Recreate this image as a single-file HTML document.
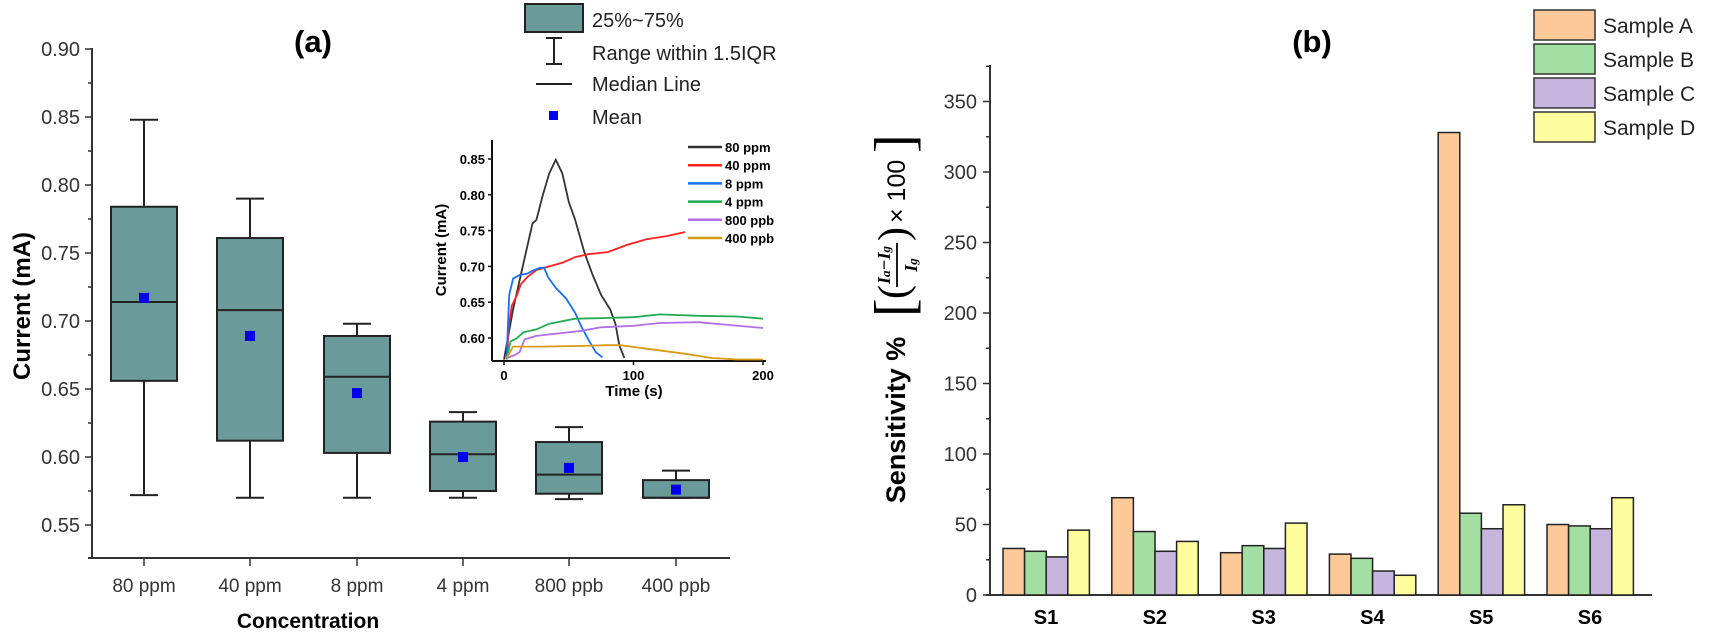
<!DOCTYPE html>
<html><head><meta charset="utf-8"><style>
html,body{margin:0;padding:0;background:#fff;}
svg{display:block;font-family:"Liberation Sans",Arial,sans-serif;}
</style></head><body>
<svg id="s" width="1720" height="633" viewBox="0 0 1720 633" xmlns="http://www.w3.org/2000/svg">
<rect width="1720" height="633" fill="#fff"/>
<g id="L"></g>
<g id="R"></g>
<text x="313" y="52" font-size="31" font-weight="bold" text-anchor="middle">(a)</text>
<text x="308" y="628" font-size="21" font-weight="bold" text-anchor="middle">Concentration</text>
<text transform="translate(30,306) rotate(-90)" font-size="24" font-weight="bold" text-anchor="middle">Current (mA)</text>
<rect x="525" y="4" width="58" height="28" fill="#6b9a9a" stroke="#222" stroke-width="2"/>
<text x="592" y="27" font-size="20" fill="#222">25%~75%</text>
<line x1="554" y1="38" x2="554" y2="64" stroke="#222" stroke-width="2"/>
<line x1="546" y1="38" x2="562" y2="38" stroke="#222" stroke-width="2"/>
<line x1="546" y1="64" x2="562" y2="64" stroke="#222" stroke-width="2"/>
<text x="592" y="60" font-size="20" fill="#222">Range within 1.5IQR</text>
<line x1="536" y1="84" x2="572" y2="84" stroke="#222" stroke-width="2"/>
<text x="592" y="91" font-size="20" fill="#222">Median Line</text>
<rect x="549" y="111" width="9" height="9" fill="#0000ee"/>
<text x="592" y="124" font-size="20" fill="#222">Mean</text>
<text x="1312" y="52" font-size="31" font-weight="bold" text-anchor="middle">(b)</text>
<g transform="translate(905,420) rotate(-90)">
<text x="0" y="0" font-size="27" font-weight="bold" text-anchor="middle">Sensitivity %</text>
</g>
<g transform="translate(895,225) rotate(-90)" font-family="Liberation Serif,serif">
<text x="-92" y="18" font-size="56">[</text>
<text x="-74" y="12" font-size="42">(</text>
<text x="-40" y="-5" font-size="18" font-style="italic" font-weight="bold" text-anchor="middle">I<tspan font-size="13">a</tspan>−I<tspan font-size="13">g</tspan></text>
<line x1="-62" y1="2" x2="-18" y2="2" stroke="#000" stroke-width="1.8"/>
<text x="-40" y="22" font-size="18" font-style="italic" font-weight="bold" text-anchor="middle">I<tspan font-size="13">g</tspan></text>
<text x="-16" y="12" font-size="42">)</text>
<text x="2" y="10" font-size="25" font-family="Liberation Sans,sans-serif">× 100</text>
<text x="72" y="18" font-size="56">]</text>
</g>
</svg>
<script>
var NS="http://www.w3.org/2000/svg";
function el(p,t,a,txt){var e=document.createElementNS(NS,t);for(var k in a)e.setAttribute(k,a[k]);if(txt!==undefined)e.textContent=txt;p.appendChild(e);return e;}
var L=document.getElementById('L');
function yL(v){return 49+(0.90-v)/0.05*68;}
el(L,'line',{x1:92,y1:48,x2:92,y2:558,stroke:'#333','stroke-width':2});
el(L,'line',{x1:88,y1:558,x2:730,y2:558,stroke:'#333','stroke-width':2});
for(var i=0;i<=14;i++){var v=0.90-i*0.025;var y=yL(v);if(y>557)break;var maj=i%2==0;
 el(L,'line',{x1:maj?85:88,y1:y,x2:92,y2:y,stroke:'#333','stroke-width':1.5});
 if(maj)el(L,'text',{x:80,y:y+7,'font-size':20,'text-anchor':'end',fill:'#333'},v.toFixed(2));}
var cx=[144,250,357,463,569,676],labs=['80 ppm','40 ppm','8 ppm','4 ppm','800 ppb','400 ppb'];
var D=[[0.848,0.572,0.656,0.784,0.714,0.717],[0.790,0.570,0.612,0.761,0.708,0.689],[0.698,0.570,0.603,0.689,0.659,0.647],[0.633,0.570,0.575,0.626,0.602,0.600],[0.622,0.569,0.573,0.611,0.587,0.592],[0.590,0.570,0.570,0.583,0.570,0.576]];
for(var i=0;i<6;i++){var c=cx[i],d=D[i];
 el(L,'line',{x1:c,y1:558,x2:c,y2:566,stroke:'#333','stroke-width':1.5});
 el(L,'text',{x:c,y:592,'font-size':19,'text-anchor':'middle',fill:'#333'},labs[i]);
 el(L,'line',{x1:c,y1:yL(d[0]),x2:c,y2:yL(d[1]),stroke:'#222','stroke-width':2});
 el(L,'line',{x1:c-14,y1:yL(d[0]),x2:c+14,y2:yL(d[0]),stroke:'#222','stroke-width':2});
 el(L,'line',{x1:c-14,y1:yL(d[1]),x2:c+14,y2:yL(d[1]),stroke:'#222','stroke-width':2});
 el(L,'rect',{x:c-33,y:yL(d[3]),width:66,height:yL(d[2])-yL(d[3]),fill:'#6b9a9a',stroke:'#222','stroke-width':2});
 el(L,'line',{x1:c-33,y1:yL(d[4]),x2:c+33,y2:yL(d[4]),stroke:'#222','stroke-width':2});
 el(L,'rect',{x:c-5,y:yL(d[5])-5,width:10,height:10,fill:'#0000ee'});}
function ix(t){return 504+t*1.295;} function iy(v){return 159+(0.85-v)/0.05*35.8;}
el(L,'line',{x1:492,y1:140,x2:492,y2:361,stroke:'#111','stroke-width':2});
el(L,'line',{x1:492,y1:361,x2:766,y2:361,stroke:'#111','stroke-width':2});
[0.85,0.80,0.75,0.70,0.65,0.60].forEach(function(v){var y=iy(v);el(L,'line',{x1:488,y1:y,x2:492,y2:y,stroke:'#111','stroke-width':1.5});
 el(L,'text',{x:485,y:y+5,'font-size':13,'font-weight':'bold','text-anchor':'end'},v.toFixed(2));});
[0,100,200].forEach(function(t){var x=ix(t);el(L,'line',{x1:x,y1:361,x2:x,y2:365,stroke:'#111','stroke-width':1.5});
 el(L,'text',{x:x,y:380,'font-size':13,'font-weight':'bold','text-anchor':'middle'},String(t));});
el(L,'text',{x:634,y:396,'font-size':15,'font-weight':'bold','text-anchor':'middle'},'Time (s)');
el(L,'text',{transform:'translate(446,250) rotate(-90)','font-size':15,'font-weight':'bold','text-anchor':'middle'},'Current (mA)');
var C=[['#333','80 ppm',[[0,0.57],[3,0.60],[7,0.64],[12,0.68],[17,0.72],[22,0.76],[25,0.765],[30,0.80],[35,0.83],[40,0.849],[45,0.83],[50,0.79],[55,0.765],[62,0.72],[68,0.69],[75,0.66],[82,0.64],[86,0.62],[89,0.59],[93,0.572]]],
['#ff2020','40 ppm',[[2,0.57],[4,0.62],[6,0.645],[10,0.66],[13,0.675],[18,0.685],[25,0.695],[35,0.70],[45,0.705],[55,0.713],[65,0.717],[80,0.72],[95,0.73],[110,0.738],[125,0.742],[140,0.748]]],
['#1a6ff0','8 ppm',[[2,0.57],[4,0.66],[7,0.683],[12,0.688],[18,0.69],[22,0.694],[28,0.698],[31,0.698],[34,0.685],[40,0.67],[48,0.655],[55,0.635],[60,0.615],[66,0.595],[71,0.58],[76,0.573]]],
['#22aa55','4 ppm',[[2,0.57],[5,0.595],[10,0.60],[15,0.608],[25,0.612],[35,0.62],[55,0.627],[80,0.628],[100,0.629],[120,0.633],[150,0.631],[180,0.63],[200,0.627]]],
['#b070e8','800 ppb',[[2,0.572],[8,0.576],[12,0.58],[16,0.598],[25,0.603],[45,0.607],[60,0.61],[75,0.615],[100,0.617],[120,0.621],[150,0.622],[175,0.618],[200,0.614]]],
['#d89a10','400 ppb',[[2,0.572],[7,0.588],[30,0.588],[60,0.589],[80,0.59],[90,0.59],[110,0.585],[140,0.578],[160,0.572],[180,0.57],[200,0.57]]]];
C.forEach(function(c,k){var p=c[2].map(function(q){return ix(q[0]).toFixed(1)+','+iy(q[1]).toFixed(1);}).join(' ');
 el(L,'polyline',{points:p,fill:'none',stroke:c[0],'stroke-width':1.8});
 var y=147+k*18.2; el(L,'line',{x1:688,y1:y,x2:722,y2:y,stroke:c[0],'stroke-width':2.5});
 el(L,'text',{x:725,y:y+5,'font-size':13,'font-weight':'bold'},c[1]);});
var R=document.getElementById('R');
function yR(v){return 595-v*1.41;}
el(R,'line',{x1:990,y1:65,x2:990,y2:595,stroke:'#333','stroke-width':2});
el(R,'line',{x1:986,y1:595,x2:1652,y2:595,stroke:'#333','stroke-width':2});
for(var v=0;v<=375;v+=25){var y=yR(v);var maj=v%50==0;
 el(R,'line',{x1:maj?983:986,y1:y,x2:990,y2:y,stroke:'#333','stroke-width':1.5});
 if(maj)el(R,'text',{x:977,y:y+7,'font-size':20,'text-anchor':'end',fill:'#333'},String(v));}
var V=[[33,31,27,46],[69,45,31,38],[30,35,33,51],[29,26,17,14],[328,58,47,64],[50,49,47,69]];
var cols=['#fdc998','#a3dfa2','#c6b5dd','#fdfd9e'];
for(var g=0;g<6;g++){var x0=1003+g*108.8;
 for(var b=0;b<4;b++){var y=yR(V[g][b]);el(R,'rect',{x:x0+b*21.6,y:y,width:21.6,height:595-y,fill:cols[b],stroke:'#222','stroke-width':1.5});}
 el(R,'text',{x:x0+43,y:624,'font-size':20,'font-weight':'bold','text-anchor':'middle'},'S'+(g+1));}
var names=['Sample A','Sample B','Sample C','Sample D'];
for(var b=0;b<4;b++){var y=10+b*34;el(R,'rect',{x:1534,y:y,width:61,height:30,fill:cols[b],stroke:'#333','stroke-width':1.5});
 el(R,'text',{x:1603,y:y+23,'font-size':21,fill:'#222'},names[b]);}
</script>
</body></html>
